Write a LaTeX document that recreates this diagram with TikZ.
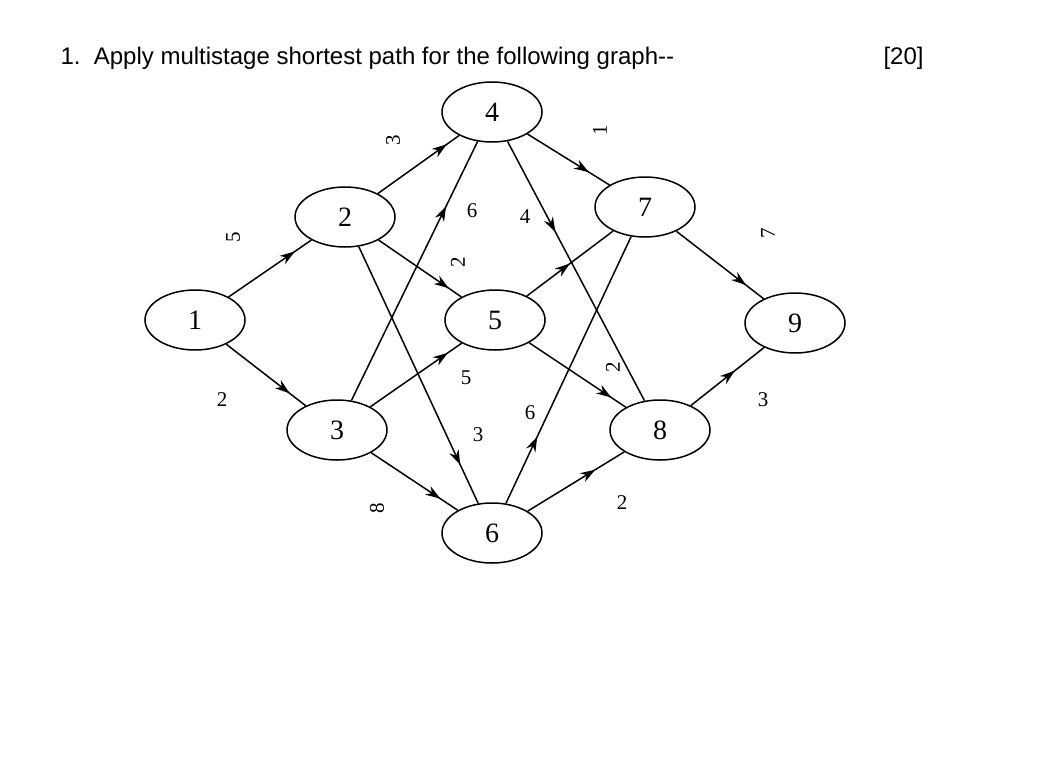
\documentclass[tikz,border=0pt]{standalone}
\usepackage{fontspec}
\setmainfont{Liberation Serif}
\newfontfamily\arial{Liberation Sans}
\usetikzlibrary{shapes.geometric,decorations.markings,arrows.meta}
\begin{document}
\begin{tikzpicture}[x=1pt,y=-1pt,
  vtx/.style={draw,ellipse,line width=1.5pt,minimum width=100pt,minimum height=60pt,font=\fontsize{28}{28}\selectfont,inner sep=0pt},
  ar/.style={line width=1.5pt,postaction={decorate},decoration={markings,mark=at position #1 with {\arrow{Stealth[length=15pt,width=10pt]}}}},
  lb/.style={font=\fontsize{21}{21}\selectfont}]
\useasboundingbox (0,0) rectangle (1042,761);
\node[anchor=base west,font=\arial\fontsize{24}{24}\selectfont] (t) at (57,64) {1.\ \ Apply multistage shortest path for the following graph--};
\node[anchor=base west,font=\arial\fontsize{24}{24}\selectfont] (m) at (880,64) {[20]};
\node[vtx] (n1) at (195,320) {1};
\node[vtx] (n2) at (345,217) {2};
\node[vtx] (n3) at (337,430) {3};
\node[vtx] (n4) at (492,112) {4};
\node[vtx] (n5) at (495,320) {5};
\node[vtx] (n6) at (492,533) {6};
\node[vtx] (n7) at (645,207) {7};
\node[vtx] (n8) at (660,430) {8};
\node[vtx] (n9) at (795,323) {9};
\draw[ar=0.8] (n1)--(n2);
\draw[ar=0.8] (n1)--(n3);
\draw[ar=0.85] (n2)--(n4);
\draw[ar=0.85] (n2)--(n5);
\draw[ar=0.85] (n2)--(n6);
\draw[ar=0.75] (n3)--(n4);
\draw[ar=0.85] (n3)--(n5);
\draw[ar=0.8] (n3)--(n6);
\draw[ar=0.75] (n4)--(n7);
\draw[ar=0.35] (n4)--(n8);
\draw[ar=0.5] (n5)--(n7);
\draw[ar=0.85] (n5)--(n8);
\draw[ar=0.25] (n6)--(n7);
\draw[ar=0.7] (n6)--(n8);
\draw[ar=0.8] (n7)--(n9);
\draw[ar=0.6] (n8)--(n9);
\node[lb,rotate=90] (l1) at (233,237) {5};
\node[lb] (l2) at (222,400) {2};
\node[lb,rotate=90] (l3) at (393,140) {3};
\node[lb] (l4) at (472,211) {6};
\node[lb,rotate=90] (l5) at (458,262) {2};
\node[lb] (l6) at (525,217) {4};
\node[lb,rotate=90] (l7) at (600,130) {1};
\node[lb,rotate=90] (l8) at (768,233) {7};
\node[lb] (l9) at (466,378) {5};
\node[lb] (l10) at (478,435) {3};
\node[lb] (l11) at (530,413) {6};
\node[lb,rotate=90] (l12) at (613,367) {2};
\node[lb,rotate=90] (l13) at (377,508) {8};
\node[lb] (l14) at (622,503) {2};
\node[lb] (l15) at (763,400) {3};
\end{tikzpicture}
\end{document}
